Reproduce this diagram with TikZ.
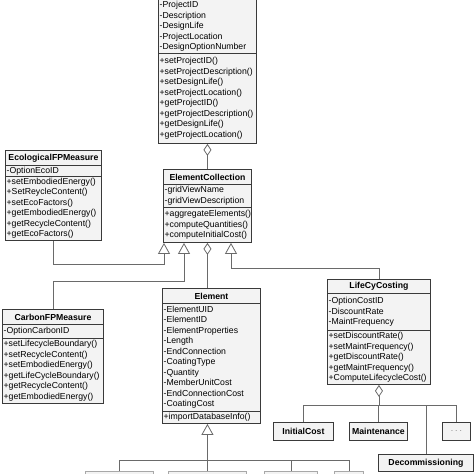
\documentclass[tikz,border=0pt]{standalone}
\usepackage{fontspec}
\setmainfont{Liberation Sans}
\usetikzlibrary{arrows.meta,calc}
\definecolor{boxline}{HTML}{3A3A3A}
\definecolor{boxfill}{HTML}{F3F3F3}
\definecolor{connc}{HTML}{6A6A6A}
\definecolor{stubc}{HTML}{A8A8A8}
\newcommand{\clsfont}{\fontsize{8.7}{10.5}\selectfont}
\begin{document}
\begin{tikzpicture}[x=1pt,y=-1pt,
  sect/.style={draw=boxline, fill=boxfill, line width=0.9pt, anchor=north west,
    inner xsep=1.2pt, inner ysep=0pt, align=left, font=\clsfont},
  ttl/.style={sect, align=center, font=\clsfont\bfseries},
  smallbox/.style={draw=boxline, fill=boxfill, line width=0.9pt, anchor=north west,
    inner sep=0pt, font=\clsfont\bfseries},
  stub/.style={draw=stubc, fill=boxfill, line width=1.4pt, anchor=north west,
    inner sep=0pt, minimum height=12pt},
  conn/.style={draw=connc, line width=0.8pt},
  gen/.style={conn, -{Triangle[open, length=11pt, width=12pt, fill=white]}},
  agg/.style={conn, -{Diamond[open, length=12pt, width=8pt, fill=white]}}
]
\useasboundingbox (0,0) rectangle (474,474);
\clip (0,0) rectangle (474,474);

% Project (cut off at top)
\node[sect, text width=95.6pt, minimum height=54pt] (Pa) at (158,-1)
  {-ProjectID\\-Description\\-DesignLife\\-ProjectLocation\\-DesignOptionNumber};
\node[sect, text width=95.6pt, minimum height=90pt] (Pm) at (158,53)
  {+setProjectID()\\+setProjectDescription()\\+setDesignLife()\\+setProjectLocation()\\+getProjectID()\\+getProjectDescription()\\+getDesignLife()\\+getProjectLocation()};

% EcologicalFPMeasure
\node[ttl, text width=93.6pt, minimum height=15pt] (Et) at (5,150) {EcologicalFPMeasure};
\node[sect, text width=93.6pt, minimum height=11pt] (Ea) at (5,165) {-OptionEcoID};
\node[sect, text width=93.6pt, minimum height=64pt] (Em) at (5,176)
  {+setEmbodiedEnergy()\\+SetReycleContent()\\+setEcoFactors()\\+getEmbodiedEnergy()\\+getRecycleContent()\\+getEcoFactors()};

% ElementCollection
\node[ttl, text width=85.6pt, minimum height=15pt] (Ct) at (163,169) {ElementCollection};
\node[sect, text width=85.6pt, minimum height=23pt] (Ca) at (163,184) {-gridViewName\\-gridViewDescription};
\node[sect, text width=85.6pt, minimum height=35pt] (Cm) at (163,207)
  {+aggregateElements()\\+computeQuantities()\\+computeInitialCost()};

% CarbonFPMeasure
\node[ttl, text width=98.6pt, minimum height=15pt] (Bt) at (2,309) {CarbonFPMeasure};
\node[sect, text width=98.6pt, minimum height=14pt] (Ba) at (2,324) {-OptionCarbonID};
\node[sect, text width=98.6pt, minimum height=65pt] (Bm) at (2,338)
  {+setLifecycleBoundary()\\+setRecycleContent()\\+setEmbodiedEnergy()\\+getLifeCycleBoundary()\\+getRecycleContent()\\+getEmbodiedEnergy()};

% Element
\node[ttl, text width=95.6pt, minimum height=15pt] (Lt) at (162,288) {Element};
\node[sect, text width=95.6pt, minimum height=108pt] (La) at (162,303)
  {-ElementUID\\-ElementID\\-ElementProperties\\-Length\\-EndConnection\\-CoatingType\\-Quantity\\-MemberUnitCost\\-EndConnectionCost\\-CoatingCost};
\node[sect, text width=95.6pt, minimum height=12pt] (Lm) at (162,411) {+importDatabaseInfo()};

% LifeCyCosting
\node[ttl, text width=100.6pt, minimum height=14pt] (Yt) at (327,279) {LifeCyCosting};
\node[sect, text width=100.6pt, minimum height=37pt] (Ya) at (327,293) {-OptionCostID\\-DiscountRate\\-MaintFrequency};
\node[sect, text width=100.6pt, minimum height=54pt] (Ym) at (327,330)
  {+setDiscountRate()\\+setMaintFrequency()\\+getDiscountRate()\\+getMaintFrequency()\\+ComputeLifecycleCost()};

% cost components
\node[smallbox, minimum width=60pt, minimum height=18pt] (Ic) at (273,422) {InitialCost};
\node[smallbox, minimum width=58pt, minimum height=18pt] (Mt) at (349,422) {Maintenance};
\node[smallbox, minimum width=28pt, minimum height=18pt, text=gray] (Dt) at (442,422) {\textmd{.\hspace{2pt}.\hspace{2pt}.}};
\node[smallbox, minimum width=95pt, minimum height=17pt] (Dc) at (378,454) {Decommissioning};

% cut-off boxes at bottom
\node[stub, minimum width=68pt] (S1) at (85,471) {};
\node[stub, minimum width=78pt] (S2) at (168,471) {};
\node[stub, minimum width=53pt] (S3) at (264,471) {};
\node[stub, minimum width=29pt] (S4) at (334,471) {};

% connectors
\draw[agg] (Ct.north) -- (Pm.south);
\draw[gen] (Em.south) |- ([xshift=1pt,yshift=-21pt]Cm.south west) -- ([xshift=1pt]Cm.south west);
\draw[gen] (Bt.north) |- ([xshift=21pt,yshift=-38pt]Cm.south west) -- ([xshift=21pt]Cm.south west);
\draw[agg] (Cm.south |- Lt.north) -- (Cm.south);
\draw[gen] (Yt.north) |- ([xshift=68pt,yshift=-25pt]Cm.south west) -- ([xshift=68pt]Cm.south west);

\coordinate (yj) at ([yshift=-20pt]Ym.south);
\draw[agg] (yj) -- (Ym.south);
\draw[conn] (Ic.north) |- (yj);
\draw[conn] (Mt.north) |- (yj);
\draw[conn] (Dc.north) |- (yj);
\draw[conn] (Dt.north) |- (yj);

\coordinate (lj) at ($(Lm.south -| Cm.south)+(0,36)$);
\draw[gen] (lj) -- (Lm.south -| Cm.south);
\draw[conn] (S1.north) |- (lj);
\draw[conn] (S2.north) |- (lj);
\draw[conn] (S3.north) |- (lj);
\draw[conn] (S4.north) |- (lj);
\end{tikzpicture}
\end{document}
